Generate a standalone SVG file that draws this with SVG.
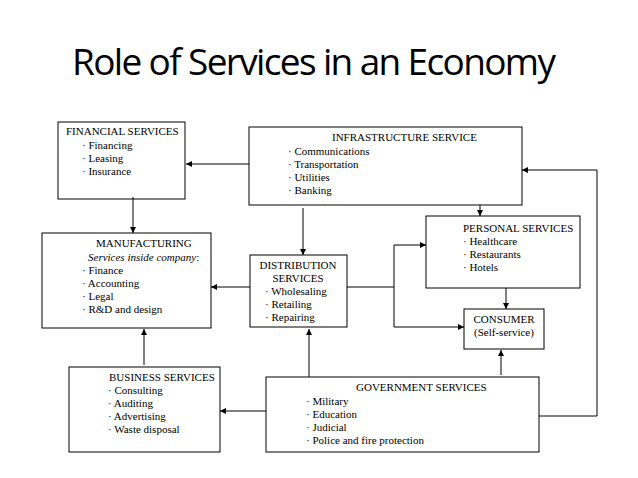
<svg xmlns="http://www.w3.org/2000/svg" width="638" height="478" viewBox="0 0 638 478">
<style>
.b{fill:#fff;stroke:#000;stroke-width:1}
text{font-family:"Liberation Serif",serif;font-size:11px;fill:#000}
.c{fill:none;stroke:#000;stroke-width:1}
</style>
<defs><marker id="a" markerWidth="6" markerHeight="6" refX="6" refY="3" orient="auto" markerUnits="userSpaceOnUse"><path d="M0,0L6,3L0,6z"/></marker></defs>
<rect width="638" height="478" fill="#fff"/>
<text x="72" y="75" style="font-family:'Open Sans','Liberation Sans',sans-serif;font-size:37px" textLength="484">Role of Services in an Economy</text>
<g id="financial"><rect class="b" x="58" y="122" width="127" height="77"/>
<text x="66" y="135">FINANCIAL SERVICES</text><text x="82" y="149">· Financing</text><text x="82" y="162">· Leasing</text><text x="82" y="175">· Insurance</text></g>
<g id="infrastructure"><rect class="b" x="249" y="127" width="273" height="78"/>
<text x="332" y="141">INFRASTRUCTURE SERVICE</text><text x="288" y="155">· Communications</text><text x="288" y="168">· Transportation</text><text x="288" y="181">· Utilities</text><text x="288" y="194">· Banking</text></g>
<g id="personal"><rect class="b" x="426" y="216" width="154" height="72"/>
<text x="463" y="232">PERSONAL SERVICES</text><text x="463" y="245">· Healthcare</text><text x="463" y="258">· Restaurants</text><text x="463" y="271">· Hotels</text></g>
<g id="manufacturing"><rect class="b" x="42" y="233" width="169" height="95"/>
<text x="96" y="247">MANUFACTURING</text><text x="88" y="261"><tspan font-style="italic">Services inside company</tspan>:</text>
<text x="82" y="274">· Finance</text><text x="82" y="287">· Accounting</text><text x="82" y="300">· Legal</text><text x="82" y="313">· R&amp;D and design</text></g>
<g id="distribution"><rect class="b" x="250" y="255" width="97" height="72"/>
<text x="298" y="269" text-anchor="middle">DISTRIBUTION</text><text x="298" y="282" text-anchor="middle">SERVICES</text>
<text x="265" y="295">· Wholesaling</text><text x="265" y="308">· Retailing</text><text x="265" y="321">· Repairing</text></g>
<g id="consumer"><rect class="b" x="464" y="309" width="80" height="40"/>
<text x="504" y="323" text-anchor="middle">CONSUMER</text><text x="504" y="336" text-anchor="middle">(Self-service)</text></g>
<g id="business"><rect class="b" x="69" y="367" width="151" height="85"/>
<text x="109" y="381">BUSINESS SERVICES</text><text x="108" y="394">· Consulting</text><text x="108" y="407">· Auditing</text><text x="108" y="420">· Advertising</text><text x="108" y="433">· Waste disposal</text></g>
<g id="government"><rect class="b" x="266" y="377" width="273" height="75"/>
<text x="356" y="391">GOVERNMENT SERVICES</text><text x="306" y="405">· Military</text><text x="306" y="418">· Education</text><text x="306" y="431">· Judicial</text><text x="306" y="444">· Police and fire protection</text></g>
<g id="connectors">
<path class="c" marker-end="url(#a)" d="M249,164H186"/>
<path class="c" marker-end="url(#a)" d="M133,197V233"/>
<path class="c" marker-end="url(#a)" d="M303,208V255"/>
<path class="c" marker-end="url(#a)" d="M480,205V216"/>
<path class="c" marker-end="url(#a)" d="M250,287H211"/>
<path class="c" d="M347,287H394"/>
<path class="c" marker-end="url(#a)" d="M394,287V245H426"/>
<path class="c" marker-end="url(#a)" d="M394,287V327H464"/>
<path class="c" marker-end="url(#a)" d="M506,288V309"/>
<path class="c" marker-end="url(#a)" d="M501,375V350"/>
<path class="c" marker-end="url(#a)" d="M309,377V329"/>
<path class="c" marker-end="url(#a)" d="M266,411H220"/>
<path class="c" marker-end="url(#a)" d="M144,365V329"/>
<path class="c" marker-end="url(#a)" d="M539,416H597V170H522"/>
</g>
</svg>
